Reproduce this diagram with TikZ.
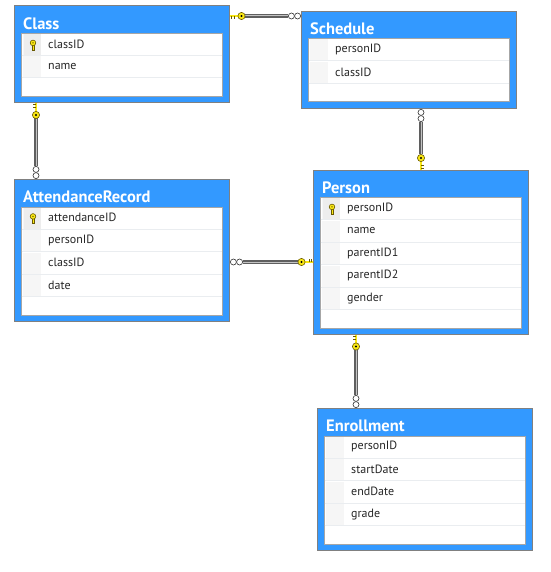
\documentclass[tikz,border=0pt]{standalone}
\usepackage{fontspec}
\setmainfont{PT Sans}
\usetikzlibrary{calc}
\definecolor{tableblue}{RGB}{51,153,255}
\definecolor{keyyellow}{RGB}{250,232,20}
\definecolor{keyedge}{RGB}{105,90,0}
\definecolor{rowgray}{RGB}{234,237,240}
\definecolor{linedark}{RGB}{95,95,95}
\definecolor{linelight}{RGB}{195,195,195}
\tikzset{
  tablebox/.style={draw=gray, line width=1pt, fill=tableblue, anchor=north west,
    inner sep=0pt, minimum width=215pt},
  tablebody/.style={draw=gray!70, line width=0.8pt, fill=white, anchor=north west,
    inner sep=0pt, minimum width=201pt},
  tabletitle/.style={anchor=base west, inner sep=0pt, text=white,
    font=\fontsize{16.5}{19}\selectfont\bfseries},
  fieldtext/.style={anchor=west, inner sep=0pt, text=black!85,
    font=\fontsize{12}{14}\selectfont},
  iconcell/.style={fill=gray!7},
  keycell/.style={fill=gray!14},
  rowline/.style={draw=rowgray, line width=1pt},
  relline/.style={draw=linedark, double=linelight, double distance=1pt, line width=1.1pt},
  keybow/.style={draw=keyedge, fill=keyyellow, line width=0.6pt},
  manycircle/.style={draw=black!80, fill=white, line width=0.6pt},
  tablekey/.pic={
    \draw[keyedge, line width=0.5pt, fill=keyyellow] (-1,0) rectangle (1,5.5);
    \draw[keyedge, line width=0.8pt] (1,3.2) -- (2.4,3.2) (1,5) -- (2.4,5);
    \draw[keybow] (0,-1.6) circle (2.8pt);
    \fill[keyedge] (0,-1.6) circle (0.8pt);
  }
}
% one end (key) at #1, many end (circles) at #2
\newcommand\erdlink[2]{%
  \draw[relline] ($(#1)!15pt!(#2)$) -- ($(#2)!13pt!(#1)$);
  \draw[keyedge, line width=2.8pt] (#1) -- ($(#1)!9pt!(#2)$);
  \draw[keyyellow, line width=1.5pt] (#1) -- ($(#1)!9pt!(#2)$);
  \draw[keyedge, line width=1pt] ($(#1)!1.5pt!(#2)$) -- ($(#1)!1.5pt!(#2)!3pt!-90:(#2)$)
    ($(#1)!4pt!(#2)$) -- ($(#1)!4pt!(#2)!3pt!-90:(#2)$);
  \draw[keybow] ($(#1)!11.5pt!(#2)$) circle (3.6pt);
  \fill[black] ($(#1)!11.5pt!(#2)$) circle (1.1pt);
  \draw[manycircle] ($(#2)!3.4pt!(#1)$) circle (3pt);
  \draw[manycircle] ($(#2)!9.6pt!(#1)$) circle (3pt);
}
\begin{document}
\begin{tikzpicture}[x=1pt,y=-1pt]
\useasboundingbox (0,0) rectangle (550,572);

% Drawing table Class
\node[tablebox, minimum height=97pt] (class) at (14,5.5) {};
\node[tabletitle] (classtitle) at ([xshift=9pt,yshift=-23.8pt]class.north west) {Class};
\node[tablebody, minimum height=63pt] (classbody) at ([xshift=7pt,yshift=-27.5pt]class.north west) {};
\foreach \field [count=\i] in {classID,name} {
  \fill[iconcell] ($(classbody.north west)+(1.5,{(\i-1)*22.5+1})$) rectangle ++(18,21);
  \draw[rowline] ($(classbody.north west)+(0.5,{\i*22.5})$) -- ++(200,0);
  \node[fieldtext] (class-\i) at ($(classbody.north west)+(27,{(\i-0.5)*22.5})$) {\field};
}
\fill[keycell] ($(classbody.north west)+(3,1)$) rectangle ++(16.5,21);
\pic at ($(classbody.north west)+(12,11.5)$) {tablekey};

% Drawing table Schedule
\node[tablebox, minimum height=97pt] (schedule) at (301,11) {};
\node[tabletitle] (scheduletitle) at ([xshift=9pt,yshift=-23.8pt]schedule.north west) {Schedule};
\node[tablebody, minimum height=63pt] (schedulebody) at ([xshift=7pt,yshift=-27.5pt]schedule.north west) {};
\foreach \field [count=\i] in {personID,classID} {
  \fill[iconcell] ($(schedulebody.north west)+(1.5,{(\i-1)*22.5+1})$) rectangle ++(18,21);
  \draw[rowline] ($(schedulebody.north west)+(0.5,{\i*22.5})$) -- ++(200,0);
  \node[fieldtext] (schedule-\i) at ($(schedulebody.north west)+(27,{(\i-0.5)*22.5})$) {\field};
}

% Drawing table AttendanceRecord
\node[tablebox, minimum height=142pt] (attendance) at (14,179) {};
\node[tabletitle] (attendancetitle) at ([xshift=9pt,yshift=-23.8pt]attendance.north west) {AttendanceRecord};
\node[tablebody, minimum height=108pt] (attendancebody) at ([xshift=7pt,yshift=-27.5pt]attendance.north west) {};
\foreach \field [count=\i] in {attendanceID,personID,classID,date} {
  \fill[iconcell] ($(attendancebody.north west)+(1.5,{(\i-1)*22.5+1})$) rectangle ++(18,21);
  \draw[rowline] ($(attendancebody.north west)+(0.5,{\i*22.5})$) -- ++(200,0);
  \node[fieldtext] (attendance-\i) at ($(attendancebody.north west)+(27,{(\i-0.5)*22.5})$) {\field};
}
\fill[keycell] ($(attendancebody.north west)+(3,1)$) rectangle ++(16.5,21);
\pic at ($(attendancebody.north west)+(12,11.5)$) {tablekey};

% Drawing table Person
\node[tablebox, minimum height=164.5pt] (person) at (313,169.5) {};
\node[tabletitle] (persontitle) at ([xshift=9pt,yshift=-23.8pt]person.north west) {Person};
\node[tablebody, minimum height=130.5pt] (personbody) at ([xshift=7pt,yshift=-27.5pt]person.north west) {};
\foreach \field [count=\i] in {personID,name,parentID1,parentID2,gender} {
  \fill[iconcell] ($(personbody.north west)+(1.5,{(\i-1)*22.5+1})$) rectangle ++(18,21);
  \draw[rowline] ($(personbody.north west)+(0.5,{\i*22.5})$) -- ++(200,0);
  \node[fieldtext] (person-\i) at ($(personbody.north west)+(27,{(\i-0.5)*22.5})$) {\field};
}
\fill[keycell] ($(personbody.north west)+(3,1)$) rectangle ++(16.5,21);
\pic at ($(personbody.north west)+(12,11.5)$) {tablekey};

% Drawing table Enrollment
\node[tablebox, minimum height=142pt] (enrollment) at (317,408) {};
\node[tabletitle] (enrollmenttitle) at ([xshift=9pt,yshift=-23.8pt]enrollment.north west) {Enrollment};
\node[tablebody, minimum height=108pt] (enrollmentbody) at ([xshift=7pt,yshift=-27.5pt]enrollment.north west) {};
\foreach \field [count=\i] in {personID,startDate,endDate,grade} {
  \fill[iconcell] ($(enrollmentbody.north west)+(1.5,{(\i-1)*22.5+1})$) rectangle ++(18,21);
  \draw[rowline] ($(enrollmentbody.north west)+(0.5,{\i*22.5})$) -- ++(200,0);
  \node[fieldtext] (enrollment-\i) at ($(enrollmentbody.north west)+(27,{(\i-0.5)*22.5})$) {\field};
}

% Drawing relation Class Schedule
\coordinate (cs1) at ([yshift=-10.5pt]class.north east);
\coordinate (cs2) at (cs1 -| schedule.west);
\erdlink{cs1}{cs2}

% Drawing relation Person Schedule
\coordinate (sp2) at ([xshift=120pt]schedule.south west);
\coordinate (sp1) at (sp2 |- person.north);
\erdlink{sp1}{sp2}

% Drawing relation Class AttendanceRecord
\coordinate (ca1) at ([xshift=22pt]class.south west);
\coordinate (ca2) at (ca1 |- attendance.north);
\erdlink{ca1}{ca2}

% Drawing relation Person AttendanceRecord
\coordinate (ap2) at ([yshift=-83pt]attendance.north east);
\coordinate (ap1) at (ap2 -| person.west);
\erdlink{ap1}{ap2}

% Drawing relation Person Enrollment
\coordinate (pe1) at ([xshift=43pt]person.south west);
\coordinate (pe2) at (pe1 |- enrollment.north);
\erdlink{pe1}{pe2}
\end{tikzpicture}
\end{document}
